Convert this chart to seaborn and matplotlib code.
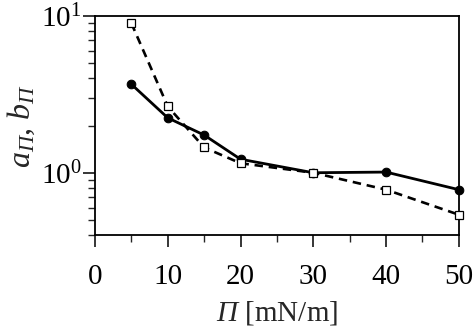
import matplotlib
matplotlib.use("Agg")
import matplotlib.pyplot as plt
import seaborn as sns
import pandas as pd
import numpy as np
from matplotlib.ticker import LogLocator, NullFormatter, MultipleLocator, FuncFormatter

pressure = [5, 10, 15, 20, 30, 40, 50]
a_vals = [3.67, 2.24, 1.74, 1.22, 1.00, 1.01, 0.78]
b_vals = [9.0, 2.65, 1.45, 1.15, 1.00, 0.78, 0.54]

sns.set_style("ticks")
plt.rcParams['font.family'] = ['Liberation Serif', 'DejaVu Serif']
plt.rcParams['mathtext.fontset'] = 'custom'
plt.rcParams['mathtext.rm'] = 'Liberation Serif:italic'
plt.rcParams['mathtext.it'] = 'Liberation Serif:italic'
plt.rcParams['mathtext.sf'] = 'Liberation Serif'
plt.rcParams['mathtext.bf'] = 'Liberation Serif:bold'

df = pd.DataFrame({"P": pressure * 2,
                   "v": a_vals + b_vals,
                   "s": ["a"] * len(pressure) + ["b"] * len(pressure)})

fig = plt.figure(figsize=(4.74, 3.27), dpi=100)
ax = fig.add_axes([0.2004, 0.281, 0.7675, 0.670])

sns.lineplot(data=df[df.s == "a"], x="P", y="v", ax=ax, color="black",
             linewidth=2.0, marker="o", markersize=6.2,
             markerfacecolor="black", markeredgecolor="black",
             clip_on=False, zorder=3)
sns.lineplot(data=df[df.s == "b"], x="P", y="v", ax=ax, color="black",
             linewidth=1.9, linestyle=(0, (3.2, 2.2)), marker="s", markersize=5.6,
             markerfacecolor="white", markeredgecolor="black", markeredgewidth=0.9,
             clip_on=False, zorder=4)

ax.set_yscale("log")
ax.set_xlim(0, 50)
ax.set_ylim(0.4, 10)
ax.xaxis.set_major_locator(MultipleLocator(10))
ax.xaxis.set_minor_locator(MultipleLocator(5))
ax.yaxis.set_major_locator(LogLocator(base=10, numticks=5))
ax.yaxis.set_major_formatter(FuncFormatter(
    lambda v, p: r"$\mathsf{10^{%d}}$" % int(round(np.log10(v)))))
ax.yaxis.set_minor_locator(LogLocator(base=10, subs=np.arange(2, 10), numticks=10))
ax.yaxis.set_minor_formatter(NullFormatter())

for s in ax.spines.values():
    s.set_linewidth(1.3)
    s.set_color("black")
ax.tick_params(which="major", direction="out", length=8.5, width=1.1,
               labelsize=21, colors="black", top=False, right=False)
ax.tick_params(axis="x", which="major", pad=12)
ax.tick_params(axis="y", which="major", pad=1)
ax.tick_params(which="minor", direction="out", length=5, width=1.0,
               top=False, right=False)

ax.set_xlabel(r"$\Pi$ [mN/m]", fontsize=21, labelpad=7)
ax.set_ylabel(r"$a_{\Pi}$, $b_{\Pi}$", fontsize=23, labelpad=3)
ax.grid(False)

fig.savefig("out.png", dpi=100)
